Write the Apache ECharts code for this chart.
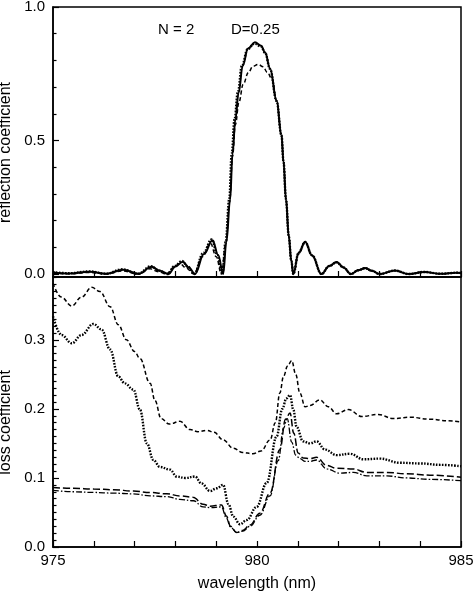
<!DOCTYPE html>
<html>
<head>
<meta charset="utf-8">
<script src="https://cdn.jsdelivr.net/npm/echarts@6/dist/echarts.min.js"></script>
<style>
html,body{margin:0;padding:0;background:#fff;}
#chart{width:474px;height:594px;}
</style>
</head>
<body>
<div id="chart"></div>
<script>
// ---- data ----
// reflection coefficient (top panel), [wavelength nm, value]
var reflSolid = [[975.0,0.006],[975.4,0.002],[975.9,0.009],[976.3,0.001],[976.72,0.016],[977.1,0.001],[977.42,0.027],[977.62,0.012],[977.83,0.0],[978.0,0.028],[978.18,0.046],[978.33,0.025],[978.48,0.0],[978.7,0.075],[978.91,0.127],[979.05,0.07],[979.17,0.0],[979.25,0.12],[979.34,0.277],[979.4,0.45],[979.47,0.58],[979.55,0.68],[979.65,0.78],[979.78,0.845],[979.95,0.868],[980.1,0.855],[980.2,0.83],[980.32,0.77],[980.48,0.65],[980.6,0.52],[980.65,0.42],[980.71,0.28],[980.78,0.14],[980.84,0.05],[980.89,0.0],[981.02,0.08],[981.18,0.121],[981.35,0.07],[981.58,0.0],[981.77,0.03],[981.95,0.045],[982.12,0.025],[982.3,0.0],[982.48,0.014],[982.65,0.023],[982.82,0.012],[983.0,0.0],[983.38,0.013],[983.72,0.0],[984.1,0.008],[984.5,0.001],[984.9,0.005],[985.0,0.004]];
var reflDotted = [[975.0,0.007],[975.4,0.003],[975.9,0.010],[976.3,0.001],[976.7,0.018],[977.08,0.001],[977.4,0.029],[977.6,0.013],[977.81,0.0],[977.98,0.03],[978.16,0.049],[978.31,0.027],[978.46,0.0],[978.68,0.078],[978.89,0.130],[979.03,0.072],[979.15,0.0],[979.23,0.12],[979.32,0.28],[979.38,0.45],[979.45,0.58],[979.53,0.68],[979.63,0.78],[979.77,0.842],[979.94,0.863],[980.1,0.852],[980.2,0.828],[980.32,0.768],[980.48,0.648],[980.6,0.52],[980.65,0.42],[980.71,0.28],[980.78,0.14],[980.84,0.05],[980.89,0.0],[981.02,0.08],[981.18,0.12],[981.35,0.07],[981.58,0.0],[981.77,0.03],[981.95,0.044],[982.12,0.025],[982.3,0.0],[982.48,0.014],[982.65,0.022],[982.82,0.012],[983.0,0.0],[983.38,0.013],[983.72,0.0],[984.1,0.008],[984.5,0.001],[984.9,0.005],[985.0,0.004]];
var reflDashed = [[975.0,0.004],[975.4,0.001],[975.9,0.006],[976.3,0.0],[976.7,0.012],[977.1,0.0],[977.38,0.02],[977.58,0.009],[977.78,0.0],[977.95,0.024],[978.1,0.04],[978.27,0.022],[978.45,0.0],[978.66,0.065],[978.86,0.115],[979.0,0.065],[979.13,0.0],[979.23,0.11],[979.33,0.27],[979.4,0.44],[979.47,0.56],[979.56,0.645],[979.66,0.71],[979.79,0.755],[979.9,0.778],[980.03,0.785],[980.15,0.776],[980.25,0.756],[980.37,0.73],[980.48,0.648],[980.6,0.52],[980.65,0.42],[980.71,0.28],[980.78,0.14],[980.84,0.05],[980.89,0.0],[981.02,0.075],[981.18,0.118],[981.35,0.068],[981.58,0.0],[981.77,0.03],[981.95,0.044],[982.12,0.025],[982.3,0.0],[982.48,0.014],[982.65,0.022],[982.82,0.012],[983.0,0.0],[983.38,0.013],[983.72,0.0],[984.1,0.008],[984.5,0.001],[984.9,0.005],[985.0,0.004]];

// loss coefficient (bottom panel), [wavelength nm, value]
var lossShortDash = [[975.0,0.382],[975.2,0.362],[975.46,0.349],[975.7,0.362],[975.95,0.376],[976.15,0.37],[976.4,0.348],[976.6,0.322],[976.8,0.300],[977.0,0.283],[977.13,0.273],[977.38,0.237],[977.5,0.212],[977.65,0.186],[977.85,0.178],[978.11,0.182],[978.36,0.170],[978.55,0.167],[978.77,0.169],[978.95,0.166],[979.17,0.155],[979.42,0.143],[979.65,0.137],[979.9,0.135],[980.1,0.139],[980.32,0.155],[980.45,0.18],[980.56,0.223],[980.65,0.247],[980.75,0.262],[980.85,0.270],[980.95,0.250],[981.05,0.223],[981.18,0.203],[981.3,0.205],[981.54,0.213],[981.75,0.203],[981.95,0.193],[982.24,0.199],[982.57,0.189],[982.97,0.192],[983.34,0.186],[983.75,0.188],[984.24,0.185],[984.65,0.183],[985.0,0.181]];
var lossDotted = [[975.0,0.334],[975.21,0.307],[975.46,0.295],[975.7,0.307],[975.99,0.323],[976.19,0.315],[976.4,0.286],[976.6,0.247],[976.76,0.237],[976.97,0.228],[977.13,0.199],[977.3,0.150],[977.46,0.126],[977.62,0.116],[977.87,0.112],[978.03,0.102],[978.24,0.100],[978.48,0.102],[978.64,0.092],[978.85,0.081],[979.01,0.085],[979.17,0.090],[979.3,0.062],[979.42,0.044],[979.58,0.033],[979.75,0.039],[979.99,0.058],[980.24,0.093],[980.48,0.160],[980.62,0.200],[980.72,0.215],[980.81,0.220],[980.89,0.199],[980.97,0.174],[981.13,0.153],[981.3,0.150],[981.46,0.153],[981.67,0.141],[981.95,0.133],[982.28,0.135],[982.61,0.127],[983.01,0.128],[983.5,0.122],[984.0,0.121],[984.49,0.119],[985.0,0.117]];
var lossLongDash = [[975.0,0.086],[975.5,0.085],[976.0,0.084],[976.48,0.083],[976.97,0.081],[977.38,0.079],[977.79,0.077],[978.11,0.074],[978.43,0.072],[978.68,0.062],[978.85,0.059],[979.13,0.061],[979.25,0.045],[979.35,0.030],[979.5,0.021],[979.65,0.024],[979.83,0.032],[980.07,0.049],[980.32,0.078],[980.56,0.141],[980.7,0.185],[980.81,0.194],[980.9,0.165],[981.01,0.136],[981.13,0.129],[981.3,0.128],[981.46,0.130],[981.71,0.118],[981.95,0.114],[982.36,0.113],[982.69,0.108],[983.18,0.108],[983.67,0.106],[984.24,0.104],[985.0,0.101]];
var lossDashDot = [[975.0,0.082],[975.5,0.080],[976.0,0.079],[976.48,0.078],[976.97,0.077],[977.38,0.074],[977.79,0.073],[978.11,0.069],[978.44,0.067],[978.68,0.058],[978.85,0.057],[979.13,0.058],[979.25,0.042],[979.35,0.029],[979.5,0.021],[979.65,0.023],[979.83,0.030],[980.07,0.046],[980.32,0.074],[980.52,0.125],[980.65,0.172],[980.74,0.186],[980.85,0.152],[980.95,0.133],[981.05,0.128],[981.18,0.124],[981.3,0.124],[981.46,0.126],[981.71,0.113],[982.03,0.107],[982.36,0.108],[982.69,0.103],[983.18,0.103],[983.67,0.100],[984.24,0.098],[985.0,0.096]];

// tick values / labels
var xLabelValues = [975, 980, 985];
var reflMajorTicks = [0, 0.5, 1.0];
var reflMinorTicks = [0.1, 0.2, 0.3, 0.4, 0.6, 0.7, 0.8, 0.9];
var lossMajorTicks = [0, 0.1, 0.2, 0.3];
var lossMinorTicks = [0.01,0.02,0.03,0.04,0.05,0.06,0.07,0.08,0.09,0.11,0.12,0.13,0.14,0.15,0.16,0.17,0.18,0.19,0.21,0.22,0.23,0.24,0.25,0.26,0.27,0.28,0.29,0.31,0.32,0.33,0.34,0.35,0.36,0.37,0.38,0.39];

// ---- chart ----
var FONT = 'Liberation Sans, Arial, Helvetica, sans-serif';
var chart = echarts.init(document.getElementById('chart'), null, {renderer: 'canvas'});

function xAxisCfg(gridIndex, showLabels) {
  return {
    type: 'value', gridIndex: gridIndex, min: 975, max: 985, interval: 1,
    position: 'bottom',
    axisLine: {show: true, onZero: false, lineStyle: {color: '#000', width: 1.5}},
    axisTick: {show: true, inside: true, length: 6, lineStyle: {color: '#000', width: 1.2}},
    axisLabel: showLabels ? {
      show: true, customValues: xLabelValues, margin: 6,
      color: '#000', fontSize: 15, fontFamily: FONT,
      formatter: function (v) { return String(v); }
    } : {show: false},
    splitLine: {show: false},
    name: showLabels ? 'wavelength (nm)' : '',
    nameLocation: 'middle', nameGap: 29,
    nameTextStyle: {color: '#000', fontSize: 16, fontFamily: FONT}
  };
}
function yAxisCfg(gridIndex, min, max, ticks, len, labels, name) {
  return {
    type: 'value', gridIndex: gridIndex, min: min, max: max, position: 'left',
    axisLine: {show: !!labels, onZero: false, lineStyle: {color: '#000', width: 1.5}},
    axisTick: {show: true, inside: true, length: len, customValues: ticks, lineStyle: {color: '#000', width: 1.2}},
    axisLabel: labels ? {
      show: true, customValues: labels, margin: 8, color: '#000', fontSize: 15, fontFamily: FONT,
      formatter: function (v) { return v.toFixed(1); }
    } : {show: false},
    splitLine: {show: false},
    name: name || '', nameLocation: 'middle', nameGap: 36, nameRotate: 90,
    nameTextStyle: {color: '#000', fontSize: 16, fontFamily: FONT, padding: [0, 21, 0, 0]}
  };
}
function line(data, xi, yi, type, width) {
  return {
    type: 'line', xAxisIndex: xi, yAxisIndex: yi, data: data,
    showSymbol: false, symbol: 'none', smooth: 0.4, smoothMonotone: 'x',
    animation: false, clip: true,
    lineStyle: {color: '#000', width: width, type: type, cap: 'butt'}
  };
}

var option = {
  backgroundColor: '#fff',
  animation: false,
  grid: [
    {left: 53, right: 13, top: 7, height: 270, show: true, borderColor: '#000', borderWidth: 1.5, backgroundColor: 'transparent', outerBoundsMode: 'none', containLabel: false},
    {left: 53, right: 13, top: 277, height: 270, show: true, borderColor: '#000', borderWidth: 1.5, backgroundColor: 'transparent', outerBoundsMode: 'none', containLabel: false}
  ],
  xAxis: [xAxisCfg(0, false), xAxisCfg(1, true)],
  yAxis: [
    yAxisCfg(0, -0.011, 1.0, reflMajorTicks, 6, reflMajorTicks, 'reflection coefficient'),
    yAxisCfg(0, -0.011, 1.0, reflMinorTicks, 3.5, null, null),
    yAxisCfg(1, 0, 0.391, lossMajorTicks, 6, lossMajorTicks, 'loss coefficient'),
    yAxisCfg(1, 0, 0.391, lossMinorTicks, 3.5, null, null)
  ],
  graphic: [
    {type: 'text', left: 158, top: 22, style: {text: 'N = 2', fill: '#000', font: '15px ' + FONT}},
    {type: 'text', left: 231, top: 22, style: {text: 'D=0.25', fill: '#000', font: '15px ' + FONT}}
  ],
  series: [
    line(reflDashed, 0, 0, [4, 2.5], 1.5),
    line(reflSolid, 0, 0, 'solid', 2),
    line(reflDotted, 0, 0, [1.6, 1.4], 2.4),
    line(lossShortDash, 1, 2, [4, 2.5], 1.5),
    line(lossDotted, 1, 2, [1.6, 1.4], 2.4),
    line(lossLongDash, 1, 2, [7, 3], 1.5),
    line(lossDashDot, 1, 2, [6, 2, 1.5, 2], 1.3)
  ]
};
chart.setOption(option);
</script>
</body>
</html>
